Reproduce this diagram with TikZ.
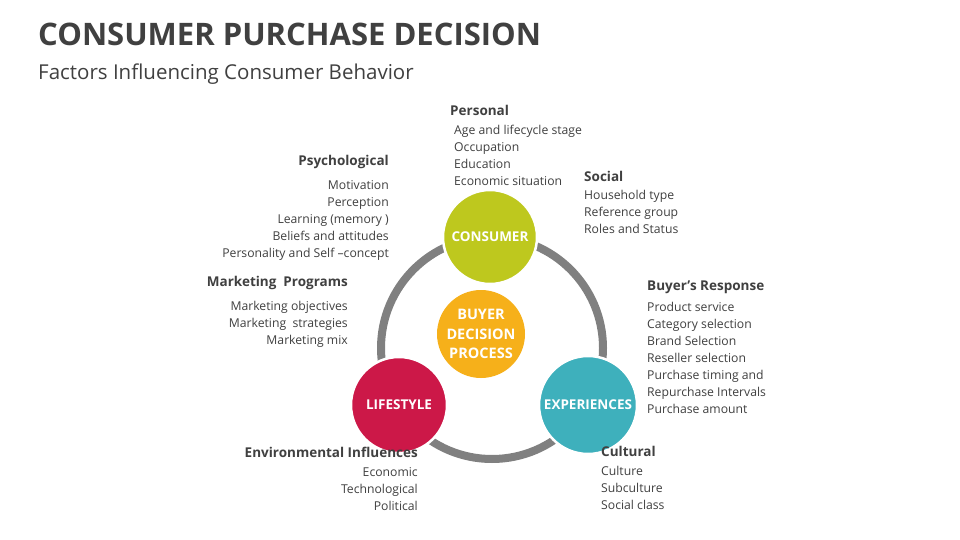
\documentclass[tikz,border=0pt]{standalone}
\usepackage{fontspec}
\setmainfont{Open Sans}
\definecolor{tgray}{RGB}{64,64,64}
\definecolor{ring}{RGB}{128,128,128}
\definecolor{lime}{RGB}{190,200,30}
\definecolor{crim}{RGB}{204,24,72}
\definecolor{teal}{RGB}{62,176,188}
\definecolor{orng}{RGB}{246,176,26}
\begin{document}
\begin{tikzpicture}[x=1pt,y=-1pt,
  hd/.style={font=\fontsize{13.5}{15}\selectfont\bfseries,text=tgray,inner sep=0pt},
  it/.style={font=\fontsize{12.2}{17}\selectfont,text=tgray,inner sep=0pt},
  bub/.style={circle,draw=white,line width=2.5pt,text=white,font=\fontsize{13.5}{16}\selectfont\bfseries,align=center,inner sep=0pt}]
\useasboundingbox[fill=white] (0,0) rectangle (960,540);
\node[anchor=west,font=\fontsize{31}{36}\selectfont\bfseries,text=tgray,inner sep=0pt] (title) at (38,34) {CONSUMER PURCHASE DECISION};
\node[anchor=west,font=\fontsize{20.5}{24}\selectfont,text=tgray,inner sep=0pt] (sub) at (38,74) {Factors Influencing Consumer Behavior};
\draw[ring,line width=8pt] (492,348) circle (111);
\node[bub,fill=lime,minimum size=94pt] (consumer) at (490,237) {CONSUMER};
\node[bub,fill=crim,minimum size=96pt] (lifestyle) at (399,405) {LIFESTYLE};
\node[bub,fill=teal,minimum size=98pt] (exp) at (588,405) {EXPERIENCES};
\node[bub,fill=orng,minimum size=88pt,draw=none,font=\fontsize{14.5}{19.5}\selectfont\bfseries] (buyer) at (481,334) {BUYER\\DECISION\\PROCESS};
% Personal
\node[hd,anchor=west] (ph) at (450,110) {Personal};
\node[it,anchor=north west,align=left] (pi) at (454,125) {Age and lifecycle stage\\Occupation\\Education\\Economic situation};
% Social
\node[hd,anchor=west] (sh) at (584,176) {Social};
\node[it,anchor=north west,align=left] (si) at (584,190) {Household type\\Reference group\\Roles and Status};
% Psychological
\node[hd,anchor=east] (psh) at (389,162) {Psychological};
\node[it,anchor=north east,align=right] (psi) at (389,180) {Motivation\\Perception\\Learning (memory )\\Beliefs and attitudes\\Personality and Self –concept};
% Marketing
\node[hd,anchor=east] (mh) at (348,283) {Marketing\ \ Programs};
\node[it,anchor=north east,align=right] (mi) at (348,301) {Marketing objectives\\Marketing\ \ strategies\\Marketing mix};
% Buyer's response
\node[hd,anchor=west] (bh) at (647,287) {Buyer's Response};
\node[it,anchor=north west,align=left] (bi) at (647,302) {Product service\\Category selection\\Brand Selection\\Reseller selection\\Purchase timing and\\Repurchase Intervals\\Purchase amount};
% Environmental
\node[hd,anchor=east] (eh) at (418,452) {Environmental Influences};
\node[it,anchor=north east,align=right] (ei) at (418,467) {Economic\\Technological\\Political};
% Cultural
\node[hd,anchor=west] (ch) at (601,451) {Cultural};
\node[it,anchor=north west,align=left] (ci) at (601,466) {Culture\\Subculture\\Social class};
\end{tikzpicture}
\end{document}
